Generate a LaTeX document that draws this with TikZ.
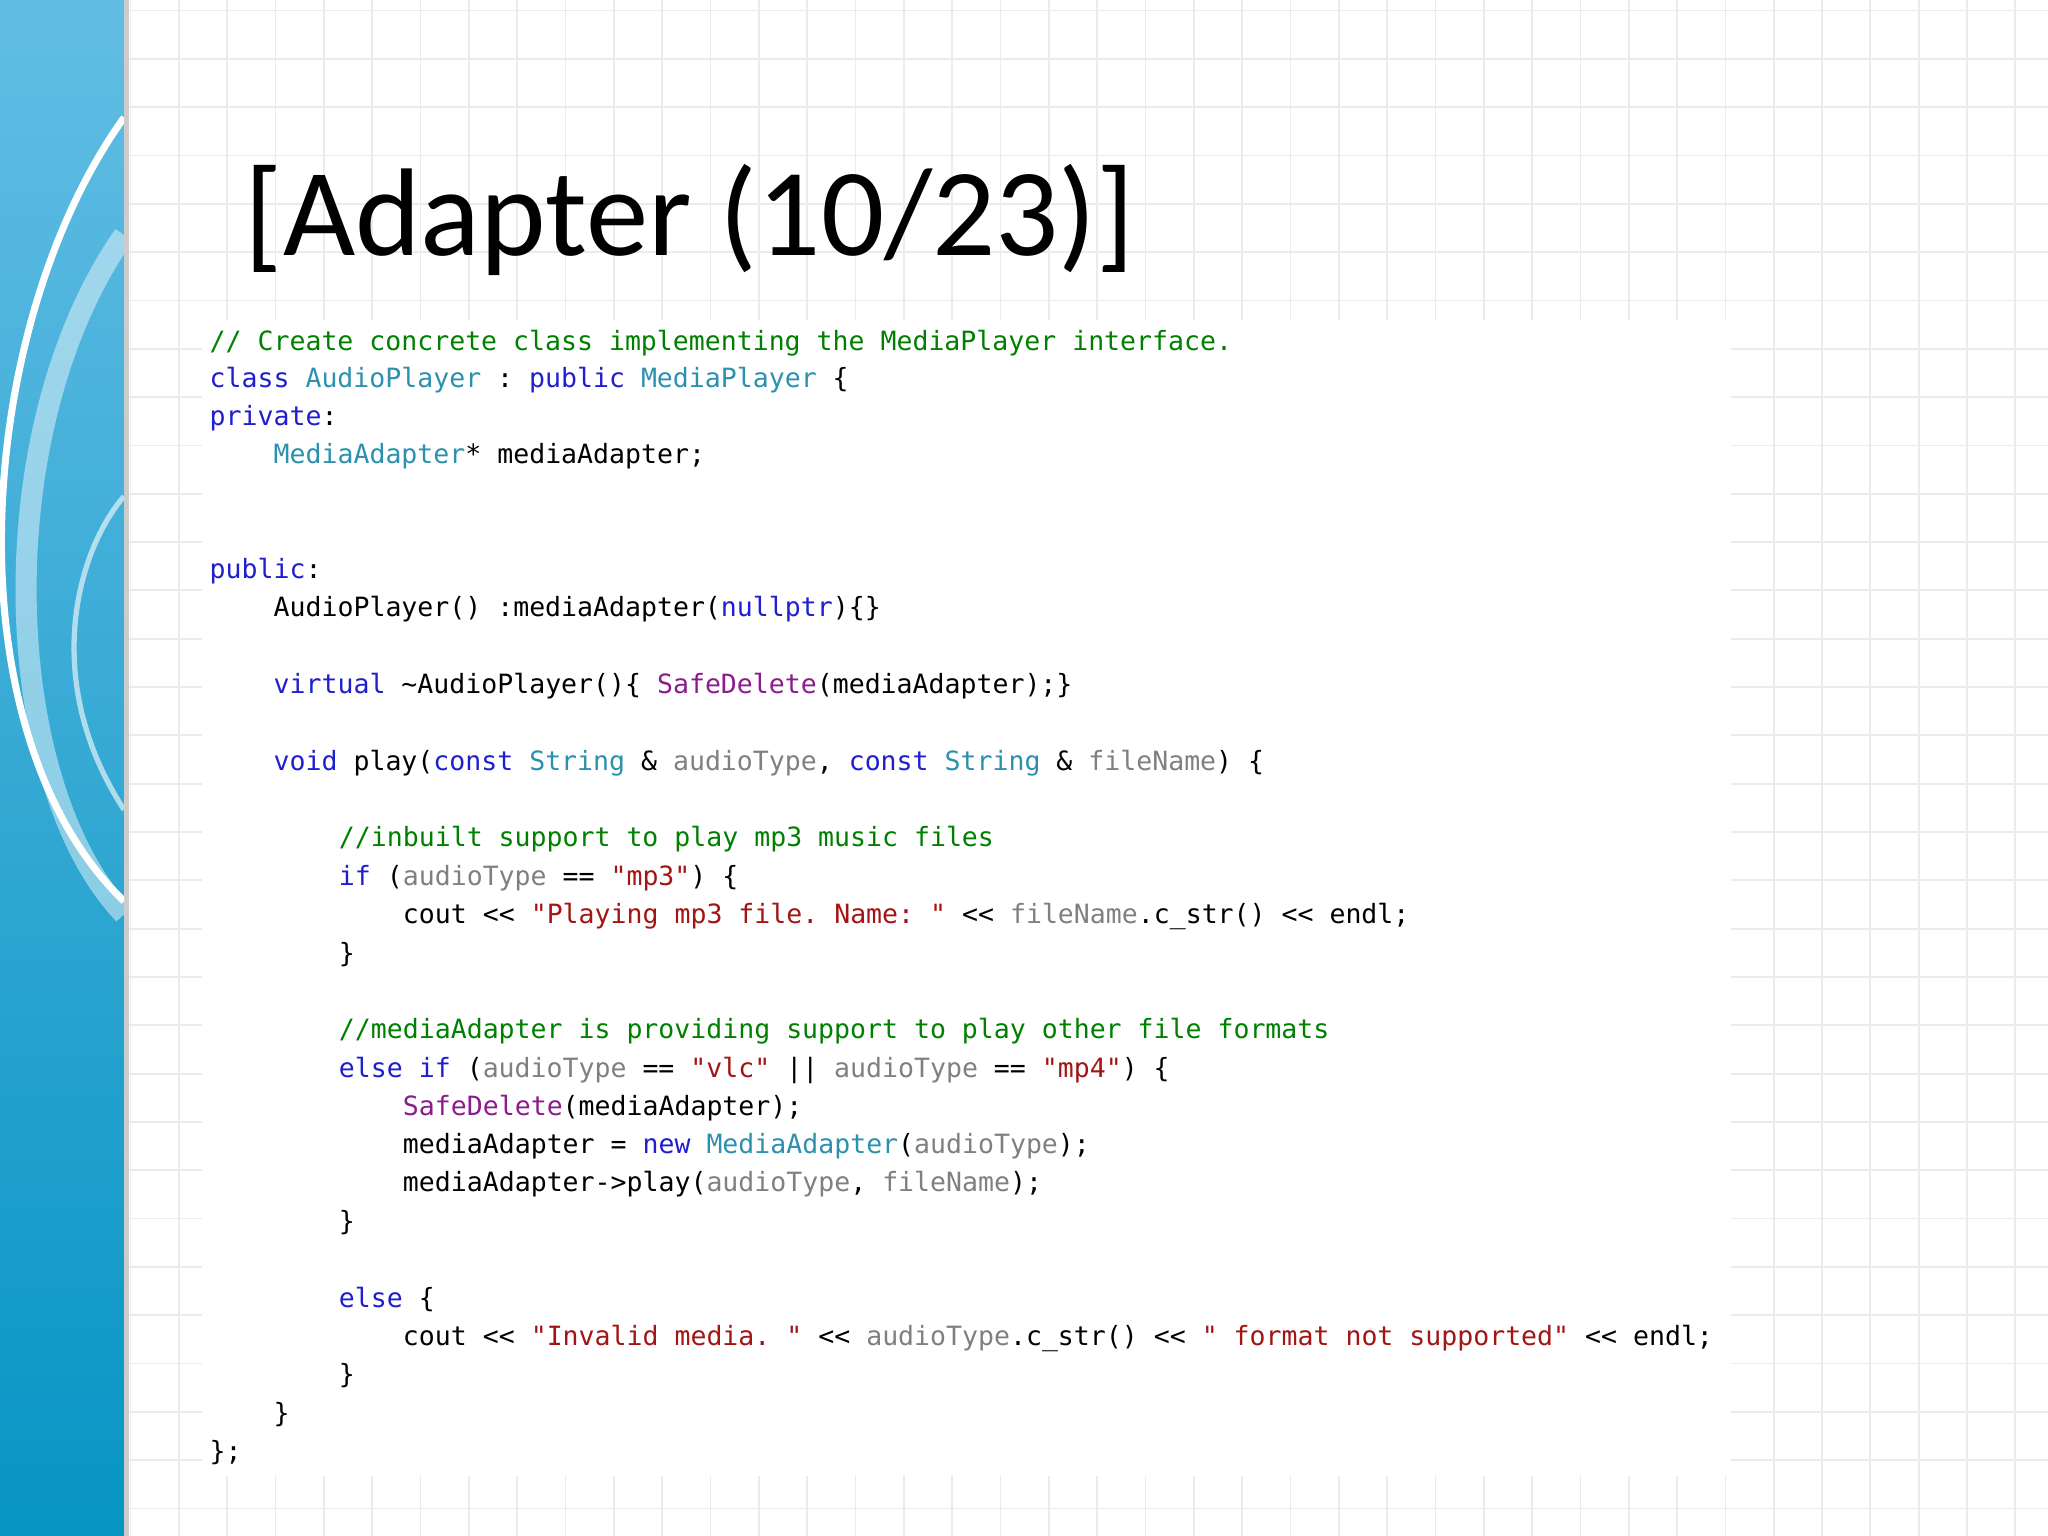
\documentclass[tikz,border=0pt]{standalone}
\usepackage{fontspec}
\setmainfont{Carlito}
\setmonofont{DejaVu Sans Mono}
\definecolor{kw}{HTML}{1F1FD0}
\definecolor{ty}{HTML}{2B91AF}
\definecolor{cm}{HTML}{008000}
\definecolor{st}{HTML}{A31515}
\definecolor{pa}{HTML}{808080}
\definecolor{fn}{HTML}{8B1C8B}
\definecolor{bandA}{HTML}{62BDE4}
\definecolor{bandB}{HTML}{0795C4}
\newcommand{\K}[1]{\textcolor{kw}{#1}}
\newcommand{\T}[1]{\textcolor{ty}{#1}}
\newcommand{\C}[1]{\textcolor{cm}{#1}}
\newcommand{\Sx}[1]{\textcolor{st}{#1}}
\newcommand{\Px}[1]{\textcolor{pa}{#1}}
\newcommand{\F}[1]{\textcolor{fn}{#1}}
\begin{document}
\begin{tikzpicture}[x=0.013061cm,y=-0.013061cm,
  code/.style={anchor=base west,inner sep=0pt,font=\ttfamily\fontsize{7.55pt}{9pt}\selectfont,text=black}]
\useasboundingbox (0,0) rectangle (1568,1176);
\fill[white] (0,0) rectangle (1568,1176);
\foreach \i in {0,...,42} {\draw[black!8,line width=0.5pt] (100+37*\i,0) -- (100+37*\i,1176);}
\foreach \j in {0,...,32} {\draw[black!8,line width=0.5pt] (95,8+37*\j) -- (1568,8+37*\j);}
\fill[white] (155,245) rectangle (1325,1130);
% left band
\shade[top color=bandA,bottom color=bandB] (0,0) rectangle (95,1176);
\fill[black!20] (95,0) rectangle (99,1176);
\begin{scope}
\clip (0,0) rectangle (95,1176);
\draw[white,line width=2pt] (95,90) .. controls (-20,250) and (-40,560) .. (95,690);
\draw[white,line width=6pt,opacity=0.45] (95,180) .. controls (-10,330) and (0,600) .. (95,700);
\draw[white,line width=1.5pt,opacity=0.6] (95,380) .. controls (60,420) and (30,520) .. (95,620);
\end{scope}
\node[anchor=base west,inner sep=0pt,font=\fontsize{35.5pt}{42pt}\selectfont] (title) at (187,196) {[Adapter (10/23)]};
\node[code] (l1) at (160,268) {\C{// Create concrete class implementing the MediaPlayer interface.}};
\node[code] (l2) at (160,297) {\K{class} \T{AudioPlayer} : \K{public} \T{MediaPlayer} \{};
\node[code] (l3) at (160,326) {\K{private}:};
\node[code] (l4) at (209,355) {\T{MediaAdapter}* mediaAdapter;};
\node[code] (l5) at (160,443) {\K{public}:};
\node[code] (l6) at (209,472) {AudioPlayer() :mediaAdapter(\K{nullptr})\{\}};
\node[code] (l7) at (209,531) {\K{virtual} \textasciitilde AudioPlayer()\{ \F{SafeDelete}(mediaAdapter);\}};
\node[code] (l8) at (209,590) {\K{void} play(\K{const} \T{String} \& \Px{audioType}, \K{const} \T{String} \& \Px{fileName}) \{};
\node[code] (l9) at (259,648) {\C{//inbuilt support to play mp3 music files}};
\node[code] (l10) at (259,678) {\K{if} (\Px{audioType} == \Sx{"mp3"}) \{};
\node[code] (l11) at (308,707) {cout << \Sx{"Playing mp3 file. Name: "} << \Px{fileName}.c\_str() << endl;};
\node[code] (l12) at (259,737) {\}};
\node[code] (l13) at (259,795) {\C{//mediaAdapter is providing support to play other file formats}};
\node[code] (l14) at (259,825) {\K{else} \K{if} (\Px{audioType} == \Sx{"vlc"} || \Px{audioType} == \Sx{"mp4"}) \{};
\node[code] (l15) at (308,854) {\F{SafeDelete}(mediaAdapter);};
\node[code] (l16) at (308,883) {mediaAdapter = \K{new} \T{MediaAdapter}(\Px{audioType});};
\node[code] (l17) at (308,912) {mediaAdapter->play(\Px{audioType}, \Px{fileName});};
\node[code] (l18) at (259,942) {\}};
\node[code] (l19) at (259,1001) {\K{else} \{};
\node[code] (l20) at (308,1030) {cout << \Sx{"Invalid media. "} << \Px{audioType}.c\_str() << \Sx{" format not supported"} << endl;};
\node[code] (l21) at (259,1059) {\}};
\node[code] (l22) at (209,1089) {\}};
\node[code] (l23) at (160,1118) {\};};
\end{tikzpicture}
\end{document}
